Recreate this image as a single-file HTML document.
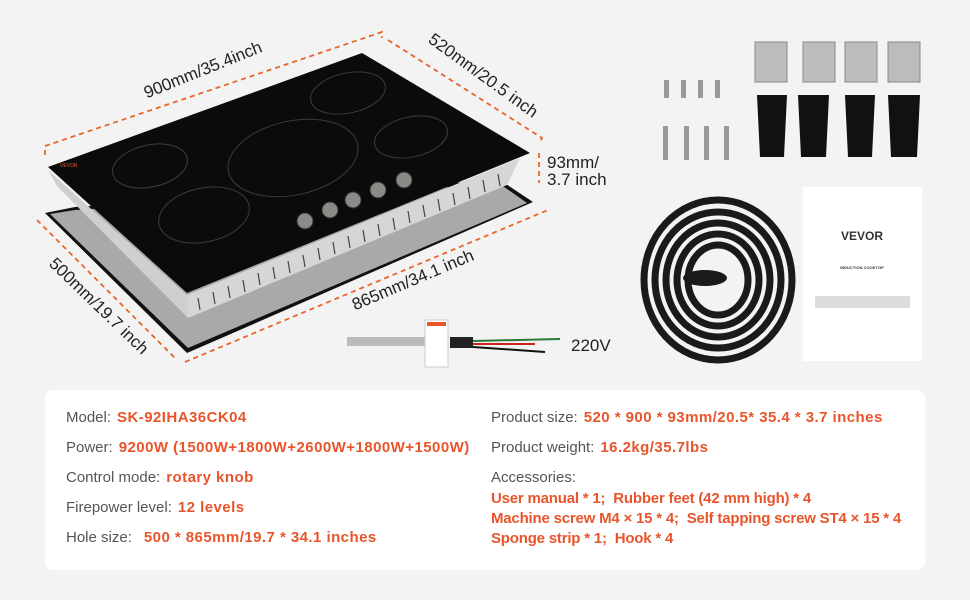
<!DOCTYPE html>
<html><head><meta charset="utf-8"><style>
html,body{margin:0;padding:0}
body{width:970px;height:600px;background:#f3f3f3;position:relative;overflow:hidden;font-family:"Liberation Sans",sans-serif}
.panel{position:absolute;left:45px;top:390px;width:880px;height:180px;background:#fff;border-radius:8px}
.t{position:absolute;font-size:15px;color:#555;white-space:nowrap}
.t b{color:#e8552b;margin-left:6px;letter-spacing:0.45px}
.o{position:absolute;font-size:15px;color:#e8552b;font-weight:bold;white-space:nowrap;letter-spacing:-0.2px}
</style></head><body>
<svg width="970" height="390" style="position:absolute;left:0;top:0" xmlns="http://www.w3.org/2000/svg">
<polygon points="45,213 75,207 500,180 533,202 187,353" fill="#111"/>
<polygon points="50,214 75,210 500,184 527,203 188,348" fill="#a9a9a9"/>
<polygon points="48,170 187,295 188,318 57,186" fill="#cfcfcf"/>
<polygon points="187,295 520,158 507,185 188,318" fill="#d6d6d6"/>
<g stroke="#444" stroke-width="1.2">
<line x1="200" y1="310" x2="198" y2="298"/><line x1="215" y1="304" x2="213" y2="292"/><line x1="230" y1="298" x2="228" y2="286"/><line x1="245" y1="292" x2="243" y2="280"/><line x1="260" y1="285" x2="258" y2="273"/><line x1="275" y1="279" x2="273" y2="267"/><line x1="290" y1="273" x2="288" y2="261"/><line x1="305" y1="267" x2="303" y2="255"/><line x1="320" y1="260" x2="318" y2="248"/><line x1="335" y1="254" x2="333" y2="242"/><line x1="350" y1="248" x2="348" y2="236"/><line x1="365" y1="242" x2="363" y2="230"/><line x1="380" y1="236" x2="378" y2="224"/><line x1="395" y1="230" x2="393" y2="218"/><line x1="410" y1="223" x2="408" y2="211"/><line x1="425" y1="217" x2="423" y2="205"/><line x1="440" y1="211" x2="438" y2="199"/><line x1="455" y1="205" x2="453" y2="193"/><line x1="470" y1="199" x2="468" y2="187"/><line x1="485" y1="192" x2="483" y2="180"/><line x1="500" y1="186" x2="498" y2="174"/>
</g>
<polygon points="48,167 362,53 530,153 187,293" fill="#0b0b0b"/>
<g fill="none" stroke="#3c3c3c" stroke-width="1">
<ellipse cx="150" cy="166" rx="38" ry="21" transform="rotate(-12 150 166)"/>
<ellipse cx="204" cy="215" rx="46" ry="27" transform="rotate(-12 204 215)"/>
<ellipse cx="293" cy="158" rx="66" ry="37" transform="rotate(-12 293 158)"/>
<ellipse cx="348" cy="93" rx="38" ry="20" transform="rotate(-12 348 93)"/>
<ellipse cx="411" cy="137" rx="37" ry="20" transform="rotate(-12 411 137)"/>
</g>
<text x="60" y="167" font-size="5" fill="#e8552b">VEVOR</text>
<g fill="#8a8a86" stroke="#333" stroke-width="1">
<circle cx="305" cy="221" r="8"/><circle cx="330" cy="210" r="8"/><circle cx="353" cy="200" r="8"/><circle cx="378" cy="190" r="8"/><circle cx="404" cy="180" r="8"/>
</g>
<g stroke="#e8652b" stroke-width="1.8" stroke-dasharray="5,4" fill="none">
<polyline points="45,155 45,146 382,32 382,38"/>
<polyline points="388,40 542,138 540,142"/>
<line x1="539" y1="153" x2="539" y2="183"/>
<polyline points="37,220 177,360"/>
<polyline points="185,362 548,210"/>
</g>
<g font-size="17" fill="#222">
<text transform="translate(205,75) rotate(-22)" text-anchor="middle">900mm/35.4inch</text>
<text transform="translate(480,80) rotate(36)" text-anchor="middle">520mm/20.5 inch</text>
<text transform="translate(95,310) rotate(44)" text-anchor="middle">500mm/19.7 inch</text>
<text transform="translate(415,285) rotate(-23)" text-anchor="middle">865mm/34.1 inch</text>
<text x="547" y="168">93mm/</text><text x="547" y="185">3.7 inch</text>
<text x="571" y="351">220V</text>
</g>
<rect x="347" y="337" width="78" height="9" fill="#bbb"/>
<rect x="425" y="320" width="23" height="47" fill="#fff" stroke="#ccc"/>
<rect x="427" y="322" width="19" height="4" fill="#e8552b"/>
<rect x="450" y="337" width="23" height="11" fill="#222"/>
<line x1="473" y1="341" x2="560" y2="339" stroke="#2a7a3a" stroke-width="2"/>
<line x1="473" y1="344" x2="535" y2="344" stroke="#c22" stroke-width="2"/>
<line x1="473" y1="347" x2="545" y2="352" stroke="#111" stroke-width="2"/>
<g fill="#bcbcbc" stroke="#888">
<rect x="755" y="42" width="32" height="40"/><rect x="803" y="42" width="32" height="40"/><rect x="845" y="42" width="32" height="40"/><rect x="888" y="42" width="32" height="40"/>
</g>
<g fill="#111">
<polygon points="757,95 787,95 784,157 760,157"/><polygon points="798,95 829,95 826,157 801,157"/><polygon points="845,95 875,95 872,157 848,157"/><polygon points="888,95 920,95 917,157 891,157"/>
</g>
<g fill="#999">
<rect x="664" y="80" width="5" height="18"/><rect x="681" y="80" width="5" height="18"/><rect x="698" y="80" width="5" height="18"/><rect x="715" y="80" width="5" height="18"/>
<rect x="663" y="126" width="5" height="34"/><rect x="684" y="126" width="5" height="34"/><rect x="704" y="126" width="5" height="34"/><rect x="724" y="126" width="5" height="34"/>
</g>
<g fill="none" stroke="#1a1a1a" stroke-width="7">
<ellipse cx="718" cy="280" rx="74" ry="80"/>
<ellipse cx="718" cy="280" rx="63" ry="68"/>
<ellipse cx="718" cy="280" rx="52" ry="57"/>
<ellipse cx="718" cy="280" rx="41" ry="46"/>
<ellipse cx="718" cy="280" rx="30" ry="35"/>
</g>
<ellipse cx="705" cy="278" rx="22" ry="8" fill="#1a1a1a"/>
<rect x="803" y="187" width="119" height="174" fill="#fff"/>
<text x="862" y="240" font-size="12" font-weight="bold" text-anchor="middle" fill="#333">VEVOR</text>
<text x="862" y="269" font-size="4" font-weight="bold" text-anchor="middle" fill="#333">INDUCTION COOKTOP</text>
<rect x="815" y="296" width="95" height="12" fill="#ddd"/>
</svg>
<div class="panel"></div>
<div class="t" style="left:66px;top:409px">Model:<b>SK-92IHA36CK04</b></div>
<div class="t" style="left:66px;top:439px">Power:<b>9200W (1500W+1800W+2600W+1800W+1500W)</b></div>
<div class="t" style="left:66px;top:469px">Control mode:<b>rotary knob</b></div>
<div class="t" style="left:66px;top:499px">Firepower level:<b>12 levels</b></div>
<div class="t" style="left:66px;top:529px">Hole size:<b style="margin-left:12px">500 * 865mm/19.7 * 34.1 inches</b></div>
<div class="t" style="left:491px;top:409px">Product size:<b>520 * 900 * 93mm/20.5* 35.4 * 3.7 inches</b></div>
<div class="t" style="left:491px;top:439px">Product weight:<b>16.2kg/35.7lbs</b></div>
<div class="t" style="left:491px;top:469px">Accessories:</div>
<div class="o" style="left:491px;top:490px">User manual * 1;&nbsp; Rubber feet (42 mm high) * 4</div>
<div class="o" style="left:491px;top:510px">Machine screw M4 × 15 * 4;&nbsp; Self tapping screw ST4 × 15 * 4</div>
<div class="o" style="left:491px;top:530px">Sponge strip * 1;&nbsp; Hook * 4</div>
</body></html>
